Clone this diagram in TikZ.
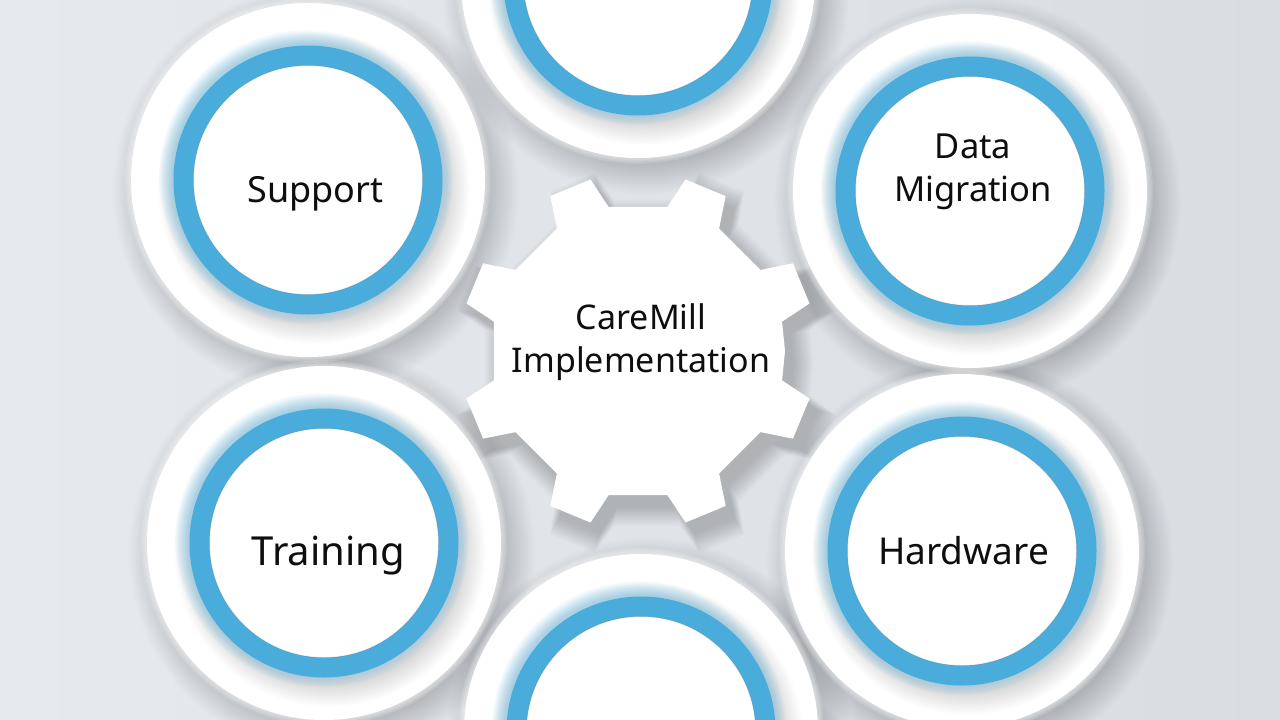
\documentclass[tikz,border=0pt]{standalone}
\usepackage{fontspec}
\setmainfont{Noto Sans}
\definecolor{ringblue}{RGB}{74,172,219}
\definecolor{bgL}{RGB}{231,234,237}
\definecolor{bgR}{RGB}{217,221,226}
\definecolor{txt}{RGB}{14,14,14}
\newcommand\cogpath[2]{(0:{#1}) \foreach \k in {0,...,7} { -- ({22.5+45*\k-11}:{#1}) -- ({22.5+45*\k-7}:{#2}) -- ({22.5+45*\k+7}:{#2}) -- ({22.5+45*\k+11}:{#1}) } -- cycle}
\tikzset{
  labeltext/.style={text=txt, align=center, inner sep=0pt},
  fs/.style={font=\fontsize{#1}{43.5}\selectfont},
  softshadow/.style={fill=black, opacity=0.012},
  ringline/.style={draw=ringblue, line width=20pt},
}
\begin{document}
\begin{tikzpicture}[x=1pt,y=-1pt]
\useasboundingbox (0,0) rectangle (1280,720);
\clip (0,0) rectangle (1280,720);
\shade[left color=bgL, right color=bgR] (0,0) rectangle (1280,720);

% soft shadows of the bubbles
\foreach \cx/\cy in {638/-19, 308/180, 970/191, 324/543, 962/551, 641/731} {
  \foreach \g in {0,...,14} {
    \fill[softshadow] (\cx+8,\cy+10) circle [radius={172+2.2*\g}];
  }
}
% soft shadow of the gear
\foreach \g in {0,...,12} {
  \fill[black, opacity=0.016, shift={(647,363)}] \cogpath{147+1.6*\g}{178+1.6*\g};
}

% bubbles
\foreach \cx/\cy in {638/-19, 308/180, 970/191, 324/543, 962/551, 641/731} {
  \begin{scope}[shift={(\cx,\cy)}]
    \foreach \g in {1,...,5} {
      \fill[white, opacity=0.12] (0,0) circle [radius={177+1.2*\g}];
    }
    \fill[white] (0,0) circle [radius=177];
    \foreach \g in {0,...,12} {
      \fill[black, opacity=0.011] (6,8) circle [radius={134+1.8*\g}];
    }
    \foreach \g in {0,...,8} {
      \fill[ringblue, opacity=0.05] (-2,-3) circle [radius={134+1.6*\g}];
    }
    \draw[ringline] (0,0) circle [radius=124.5];
    \fill[white] (0,0) circle [radius=114.5];
    \draw[black, opacity=0.1, line width=1pt] (0,0) circle [radius=114.5];
  \end{scope}
}

% gear
\fill[white, shift={(638,351)}] \cogpath{147}{178};

% labels
\node[labeltext, fs=36, anchor=base] (support) at (315.5,202) {Support};
\node[labeltext, fs=34.5] (data) at (973,172) {Data\\Migration};
\node[labeltext, fs=40, anchor=base] (training) at (328.5,565) {Training};
\node[labeltext, fs=37, anchor=base] (hardware) at (963.5,564) {Hardware};
\node[labeltext, fs=34] (core) at (641,342) {CareMill\\Implementation};
\end{tikzpicture}
\end{document}
